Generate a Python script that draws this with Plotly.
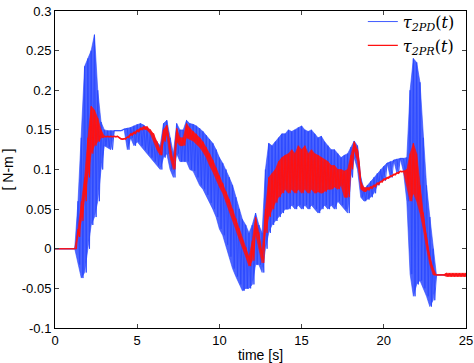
import plotly.graph_objects as go

# sample times (s), every 0.2 s
t = [round(0.2 * i, 1) for i in range(126)]

# tau_2PD : upper / lower extent of the oscillation read at each sample time
pd_hi = [0, 0, 0, 0, 0,
         0, 0, 0.06, 0.14, 0.23,
         0.24, 0.25, 0.27, 0.2, 0.16,
         0.15, 0.149, 0.149, 0.149, 0.149,
         0.149, 0.151, 0.152, 0.153, 0.155,
         0.157, 0.158, 0.156, 0.152, 0.148,
         0.142, 0.135, 0.13, 0.158, 0.162,
         0.14, 0.12, 0.158, 0.15, 0.15,
         0.162, 0.158, 0.157, 0.155, 0.152,
         0.148, 0.143, 0.138, 0.133, 0.125,
         0.115, 0.108, 0.1, 0.09, 0.08,
         0.065, 0.05, 0.037, 0.03, 0.02,
         0.03, 0.045, 0.03, 0.02, 0.1,
         0.133, 0.13, 0.135, 0.14, 0.145,
         0.145, 0.15, 0.148, 0.15, 0.153,
         0.155, 0.15, 0.148, 0.15, 0.145,
         0.14, 0.142, 0.135, 0.13, 0.125,
         0.125, 0.12, 0.115, 0.118, 0.12,
         0.128, 0.136, 0.13, 0.09, 0.075,
         0.08, 0.085, 0.09, 0.095, 0.1,
         0.104, 0.108, 0.11, 0.112, 0.113,
         0.114, 0.114, 0.115, 0.2, 0.24,
         0.235, 0.21, 0.14, 0.08, 0.04,
         0.0, -0.033, -0.033, -0.033, -0.033,
         -0.033, -0.033, -0.033, -0.033, -0.033,
         -0.033]
pd_lo = [0, 0, 0, 0, 0,
         0, 0, -0.02, -0.037, -0.03,
         0.0, 0.03, 0.04, 0.06, 0.1,
         0.13, 0.128, 0.125, 0.149, 0.149,
         0.149, 0.151, 0.125, 0.14, 0.13,
         0.135, 0.13, 0.125, 0.12, 0.115,
         0.11, 0.105, 0.1, 0.115, 0.12,
         0.1, 0.09, 0.12, 0.11, 0.11,
         0.11, 0.1, 0.098, 0.09, 0.08,
         0.075, 0.068, 0.058, 0.05, 0.04,
         0.025, 0.017, 0.005, -0.01, -0.025,
         -0.035, -0.045, -0.053, -0.05, -0.05,
         -0.045, -0.02, -0.02, -0.03, 0.0,
         0.02, 0.03, 0.035, 0.04, 0.045,
         0.05, 0.05, 0.055, 0.05, 0.055,
         0.05, 0.055, 0.05, 0.055, 0.05,
         0.045, 0.05, 0.055, 0.05, 0.055,
         0.05, 0.06, 0.055, 0.05, 0.045,
         0.09, 0.115, 0.1, 0.065, 0.06,
         0.062, 0.065, 0.07, 0.08, 0.085,
         0.086, 0.108, 0.09, 0.112, 0.095,
         0.114, 0.097, 0.06, -0.032, -0.06,
         -0.045, -0.04, -0.05, -0.06, -0.073,
         -0.065, -0.033, -0.033, -0.033, -0.033,
         -0.033, -0.033, -0.033, -0.033, -0.033,
         -0.033]

# tau_2PR : upper / lower extent at each sample time
pr_hi = [0, 0, 0, 0, 0,
         0, 0, 0.025, 0.06, 0.09,
         0.14, 0.18, 0.175, 0.165, 0.15,
         0.142, 0.142, 0.142, 0.142, 0.142,
         0.139, 0.139, 0.141, 0.145, 0.147,
         0.15, 0.152, 0.154, 0.154, 0.15,
         0.145, 0.135, 0.125, 0.15, 0.156,
         0.13, 0.11, 0.152, 0.14, 0.14,
         0.158, 0.152, 0.148, 0.145, 0.14,
         0.135, 0.128, 0.12, 0.112, 0.102,
         0.092, 0.083, 0.072, 0.062, 0.05,
         0.038, 0.025, 0.012, 0.002, -0.01,
         0.01, 0.04, 0.02, -0.005, 0.05,
         0.09, 0.095, 0.1, 0.11, 0.115,
         0.118, 0.12, 0.125, 0.12, 0.13,
         0.125, 0.13, 0.12, 0.125, 0.12,
         0.118, 0.115, 0.112, 0.11, 0.105,
         0.105, 0.1, 0.1, 0.098, 0.1,
         0.118, 0.135, 0.125, 0.085, 0.077,
         0.077, 0.078, 0.08, 0.083, 0.085,
         0.088, 0.09, 0.092, 0.094, 0.096,
         0.098, 0.098, 0.1, 0.12, 0.133,
         0.12, 0.08, 0.045, 0.015, -0.01,
         -0.025, -0.033, -0.033, -0.033, -0.031,
         -0.031, -0.031, -0.031, -0.031, -0.031,
         -0.031]
pr_lo = [0, 0, 0, 0, 0,
         0, 0, 0.015, 0.035, 0.06,
         0.09, 0.12, 0.13, 0.135, 0.14,
         0.141, 0.141, 0.141, 0.141, 0.141,
         0.138, 0.138, 0.14, 0.143, 0.145,
         0.147, 0.15, 0.151, 0.15, 0.145,
         0.135, 0.125, 0.118, 0.135, 0.145,
         0.115, 0.1, 0.135, 0.13, 0.13,
         0.14, 0.138, 0.136, 0.132, 0.128,
         0.122, 0.115, 0.105, 0.097, 0.088,
         0.078, 0.07, 0.058, 0.048, 0.036,
         0.024, 0.012, 0.0, -0.01, -0.022,
         -0.015, 0.02, 0.0, -0.018, 0.02,
         0.04, 0.05, 0.058, 0.065, 0.07,
         0.075, 0.07, 0.075, 0.07, 0.075,
         0.07, 0.075, 0.07, 0.075, 0.07,
         0.072, 0.07, 0.072, 0.075, 0.075,
         0.078, 0.075, 0.08, 0.065, 0.065,
         0.1, 0.125, 0.11, 0.075, 0.072,
         0.074, 0.076, 0.078, 0.081, 0.084,
         0.087, 0.089, 0.091, 0.093, 0.095,
         0.097, 0.097, 0.08, 0.06, 0.07,
         0.06, 0.045, 0.025, 0.0, -0.02,
         -0.033, -0.033, -0.033, -0.033, -0.035,
         -0.035, -0.035, -0.035, -0.035, -0.035,
         -0.035]

x_ticks = [0, 5, 10, 15, 20, 25]
y_ticks = [-0.1, -0.05, 0, 0.05, 0.1, 0.15, 0.2, 0.25, 0.3]
y_labels = ["-0.1", "-0.05", "0", "0.05", "0.1", "0.15", "0.2", "0.25", "0.3"]

BLUE = "#2a48ff"
RED = "#ff1010"


def zigzag(times, hi, lo, half=0.1):
    xs, ys = [], []
    for ti, h, l in zip(times, hi, lo):
        xs += [ti, ti + half]
        ys += [h, l]
    return xs, ys


def band(times, hi, lo):
    return list(times) + list(reversed(times)), list(hi) + list(reversed(lo))


fig = go.Figure()
for hi, lo, col, fcol, w, name in [
    (pd_hi, pd_lo, BLUE, "rgba(42,72,255,0.85)", 0.9, "<i>τ</i><sub><i>2PD</i></sub>(<i>t</i>)"),
    (pr_hi, pr_lo, RED, "rgba(255,16,16,0.88)", 1.1, "<i>τ</i><sub><i>2PR</i></sub>(<i>t</i>)"),
]:
    fx, fy = band(t, hi, lo)
    fig.add_trace(go.Scatter(x=fx, y=fy, mode="lines", fill="toself", fillcolor=fcol,
                             line=dict(color=col, width=0.6), showlegend=False, hoverinfo="skip"))
    zx, zy = zigzag(t, hi, lo)
    fig.add_trace(go.Scatter(x=zx, y=zy, mode="lines", line=dict(color=col, width=w), name=name))

axis_font = dict(family="Liberation Sans, Arial", size=13, color="black")
title_font = dict(family="Liberation Sans, Arial", size=14, color="black")
fig.update_layout(
    width=474, height=363,
    margin=dict(l=55, r=8, t=5, b=35),
    paper_bgcolor="white", plot_bgcolor="white",
    showlegend=True,
    legend=dict(x=0.985, y=1.02, xanchor="right", yanchor="top",
                bgcolor="rgba(255,255,255,0)",
                font=dict(family="DejaVu Serif", size=16, color="black"),
                tracegroupgap=0, itemwidth=30),
    xaxis=dict(range=[0, 25], tickvals=x_ticks, ticks="inside", ticklen=4,
               showline=True, linecolor="black", linewidth=1, mirror="ticks",
               showgrid=False, zeroline=False, tickfont=axis_font, automargin=False,
               title=dict(text="time [s]", font=title_font)),
    yaxis=dict(range=[-0.1, 0.3], tickvals=y_ticks, ticktext=y_labels, ticks="inside", ticklen=4,
               showline=True, linecolor="black", linewidth=1, mirror="ticks",
               showgrid=False, zeroline=False, tickfont=axis_font, automargin=False,
               title=dict(text="[ N-m ]", font=title_font)),
)
fig.write_html("out.html", config={"displayModeBar": False},
               post_script="document.body.style.margin='0';")
